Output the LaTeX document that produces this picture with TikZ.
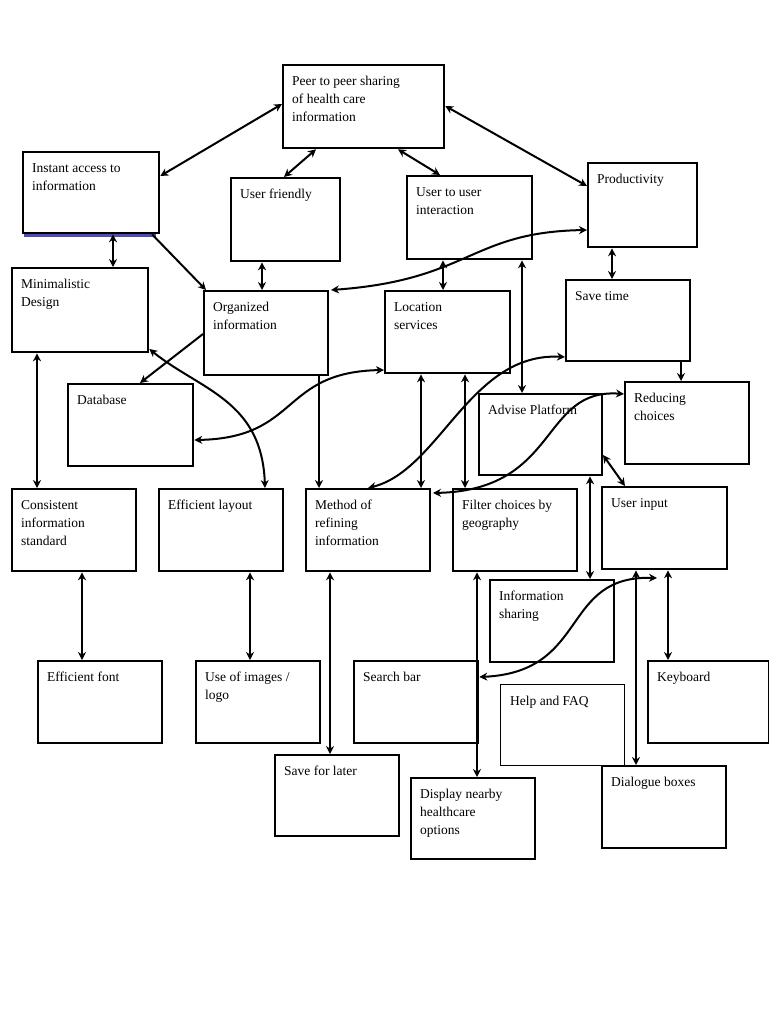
\documentclass[tikz,border=0pt]{standalone}
\usepackage{fontspec}
\usetikzlibrary{arrows.meta}
\setmainfont{Liberation Serif}
\begin{document}
\begin{tikzpicture}[x=1pt,y=-1pt,
  box/.style={draw,line width=2.3pt,inner sep=0pt},
  txt/.style={inner sep=0pt,align=left,font=\fontsize{13.5}{18}\selectfont},
  con/.style={line width=2pt,{Stealth[length=8pt,width=8pt]}-{Stealth[length=8pt,width=8pt]}},
  one/.style={line width=2pt,-{Stealth[length=8pt,width=8pt]}}]
\useasboundingbox (0,0) rectangle (768,1024);
\newcommand\bx[7][box]{%
  \node[#1,minimum width={(#4-#2)*1pt},minimum height={(#5-#3)*1pt},anchor=north west] (#2x#3) at (#2,#3) {};
  \node[txt,anchor=north west] (#2t#3) at (#2+10,#3+12) {#6};}
\bx{282}{64}{443}{147}{Peer to peer sharing\\of health care\\information}{peer}
\bx{22}{151}{158}{232}{Instant access to\\information}{inst}
\bx{230}{177}{339}{260}{User friendly}{uf}
\bx{406}{175}{531}{258}{User to user\\interaction}{uu}
\bx{587}{162}{696}{246}{Productivity}{prod}
\bx{11}{267}{147}{351}{Minimalistic\\Design}{min}
\bx{203}{290}{327}{374}{Organized\\information}{org}
\bx{384}{290}{509}{372}{Location\\services}{loc}
\bx{565}{279}{689}{360}{Save time}{save}
\bx{67}{383}{192}{465}{Database}{db}
\bx{478}{393}{601}{474}{Advise Platform}{adv}
\bx{624}{381}{748}{463}{Reducing\\choices}{red}
\bx{11}{488}{135}{570}{Consistent\\information\\standard}{cons}
\bx{158}{488}{282}{570}{Efficient layout}{el}
\bx{305}{488}{429}{570}{Method of\\refining\\information}{meth}
\bx{452}{488}{576}{570}{Filter choices by\\geography}{filt}
\bx{601}{486}{726}{568}{User input}{ui}
\bx{489}{579}{613}{661}{Information\\sharing}{is}
\bx{37}{660}{161}{742}{Efficient font}{ef}
\bx{195}{660}{319}{742}{Use of images /\\logo}{img}
\bx{353}{660}{477}{742}{Search bar}{sb}
\bx[box,line width=1.2pt]{500}{684}{624}{765}{Help and FAQ}{help}
\bx{647}{660}{768}{742}{Keyboard}{kb}
\bx{274}{754}{398}{835}{Save for later}{sfl}
\bx{410}{777}{534}{858}{Display nearby\\healthcare\\options}{disp}
\bx{601}{765}{725}{847}{Dialogue boxes}{dlg}
\draw[line width=3pt,blue!40!gray] (24,235.5) -- (156,235.5);
% connectors
\draw[con] (282x64.west |- 0,104) -- (22x151.east |- 0,176);
\draw[con] (282x64.south -| 316,0) -- (230x177.north -| 284,0);
\draw[con] (282x64.south -| 398,0) -- (406x175.north -| 440,0);
\draw[con] (282x64.east |- 0,106) -- (587x162.west |- 0,186);
\draw[con] (22x151.south -| 113,0) -- (11x267.north -| 113,0);
\draw[one] (22x151.south -| 152,0) -- (203x290.north -| 206,0);
\draw[con] (230x177.south -| 262,0) -- (203x290.north -| 262,0);
\draw[con] (406x175.south -| 443,0) -- (384x290.north -| 443,0);
\draw[con] (587x162.south -| 612,0) -- (565x279.north -| 612,0);
\draw[con] (587x162.west |- 0,230) .. controls (470,232) and (470,280) .. (331,290);
\draw[con] (11x267.south -| 37,0) -- (11x488.north -| 37,0);
\draw[con] (11x267.east |- 0,349) .. controls (200,390) and (262,400) .. (158x488.north -| 265,0);
\draw[one] (203x290.west |- 0,334) -- (140,383);
\draw[one] (203x290.south -| 319,0) -- (305x488.north -| 319,0);
\draw[con] (384x290.west |- 0,370) .. controls (280,372) and (300,438) .. (67x383.east |- 0,440);
\draw[con] (384x290.south -| 421,0) -- (305x488.north -| 421,0);
\draw[con] (384x290.south -| 465,0) -- (452x488.north -| 465,0);
\draw[con] (406x175.south -| 522,0) -- (478x393.north -| 522,0);
\draw[con] (565x279.west |- 0,357) .. controls (470,352) and (440,470) .. (305x488.north -| 368,0);
\draw[one] (565x279.south -| 681,0) -- (624x381.north -| 681,0);
\draw[con] (624x381.west |- 0,394) .. controls (540,388) and (560,490) .. (433,493);
\draw[con] (603,455) -- (601x486.north -| 625,0);
\draw[con] (478x393.south -| 590,0) -- (489x579.north -| 590,0);
\draw[con] (452x488.south -| 477,0) -- (410x777.north -| 477,0);
\draw[con] (657,578) .. controls (560,575) and (590,672) .. (353x660.east |- 0,677);
\draw[con] (601x486.south -| 636,0) -- (601x765.north -| 636,0);
\draw[con] (601x486.south -| 668,0) -- (647x660.north -| 668,0);
\draw[con] (11x488.south -| 82,0) -- (37x660.north -| 82,0);
\draw[con] (158x488.south -| 250,0) -- (195x660.north -| 250,0);
\draw[con] (305x488.south -| 330,0) -- (274x754.north -| 330,0);
\end{tikzpicture}
\end{document}
